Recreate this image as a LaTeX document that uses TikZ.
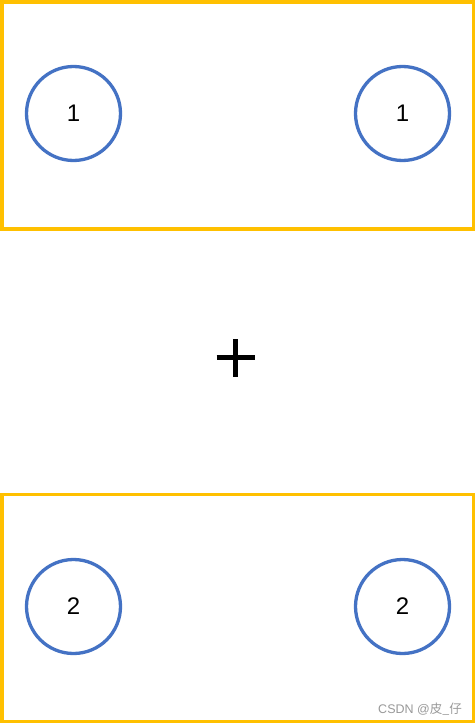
\documentclass[tikz,border=0pt]{standalone}
\usepackage{fontspec}
\setmainfont{Liberation Sans}
\newfontfamily\cjk{Noto Sans CJK SC}
\definecolor{frameyellow}{HTML}{FFC000}
\definecolor{circblue}{HTML}{4472C4}
\begin{document}
\begin{tikzpicture}[x=1pt,y=-1pt,
  framebox/.style={draw=frameyellow,line width=3.5pt},
  ring/.style={circle,draw=circblue,line width=3.3pt,minimum size=94pt,inner sep=0pt,font=\fontsize{24}{24}\selectfont},
  plusbar/.style={line width=4.5pt,black}]
\useasboundingbox (0,0) rectangle (476,725);
\fill[white] (0,0) rectangle (476,725);
\draw[framebox] (1.8,1.8) rectangle (473.4,229.2);
\draw[framebox] (1.8,494.6) rectangle (473.4,721.4);
\node[ring] (a1) at (73.5,113.5) {1};
\node[ring] (a2) at (402.5,113.5) {1};
\node[ring] (b1) at (73.5,606.5) {2};
\node[ring] (b2) at (402.5,606.5) {2};
\coordinate (pl) at (216.5,357.5);
\coordinate (pr) at (254.5,357.5);
\coordinate (pt) at (235.5,339);
\coordinate (pb) at (235.5,377);
\draw[plusbar] (pl) -- (pr);
\draw[plusbar] (pt) -- (pb);
\node[text=gray!80,font=\fontsize{12.5}{12.5}\selectfont,anchor=east,inner sep=0pt] (wm) at (462,709) {CSDN @{\cjk 皮\_仔}};
\end{tikzpicture}
\end{document}
